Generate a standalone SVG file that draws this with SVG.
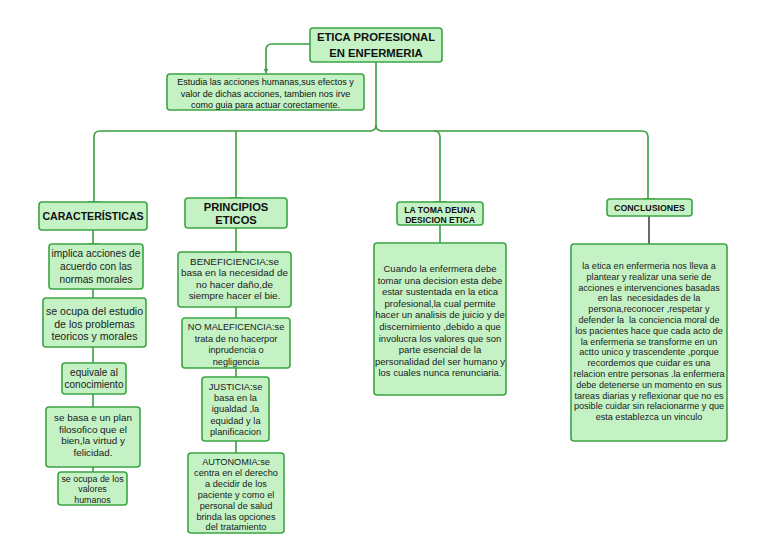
<svg xmlns="http://www.w3.org/2000/svg" width="768" height="555" viewBox="0 0 768 555">
<defs>
<style>
.box{fill:#c4f2c5;stroke:#3ba443;stroke-width:1.6}
.con{fill:none;stroke:#3a9f42;stroke-width:1.6}
.hd{font-family:"Liberation Sans",Arial,sans-serif;font-weight:bold;fill:#111;text-anchor:middle}
.tx{font-family:"Liberation Sans",Arial,sans-serif;fill:#1a1a1a;text-anchor:middle}
.ar{font-family:"Liberation Sans",Arial,sans-serif;fill:#111;text-anchor:middle}
</style>
<marker id="arr" viewBox="0 0 10 10" refX="9" refY="5" markerWidth="5" markerHeight="5" orient="auto" markerUnits="userSpaceOnUse">
<path d="M0,0 L10,5 L0,10 z" fill="#3a9f42"/>
</marker>
</defs>
<rect width="768" height="555" fill="#fff"/>
<g id="connectors">
<path class="con" d="M310,44 H272 Q266,44 266,50 V73" marker-end="url(#arr)"/>
<path class="con" d="M376,62 V125 Q376,131 370,131 H100 Q94,131 94,137 V202"/>
<path class="con" d="M376,125 Q376,131 382,131 H642 Q648,131 648,137 V199"/>
<path class="con" d="M236,131 V198"/>
<path class="con" d="M434,131 Q440,131 440,137 V202"/>
<path class="con" d="M93,230 V244 M93,289 V298 M93,347 V363 M93,394 V407 M93,467 V472"/>
<path class="con" d="M236,228 V252 M236,307 V318 M236,368 V377 M236,441 V453"/>
<path class="con" d="M440,225 V243"/>
<path class="con" style="stroke:#444" d="M649,216 V244"/>
<path class="con" d="M88,202 H100 M230,198 H242 M434,202 H446 M643,199 H655 M87,244 H99 M230,252 H242"/>
</g>
<g id="root">
<rect class="box" x="310" y="28" width="132" height="34" rx="3"/>
<text class="hd" font-size="11.3" x="376" y="41">ETICA PROFESIONAL</text>
<text class="hd" font-size="11.3" x="376" y="56.5">EN ENFERMERIA</text>
</g>
<g id="estudia">
<rect class="box" x="167" y="74" width="197" height="36" rx="3"/>
<text class="ar" font-size="9" x="265.5" y="85">Estudia las acciones humanas,sus efectos y</text>
<text class="ar" font-size="9" x="265.5" y="96.5">valor de dichas acciones, tambien nos irve</text>
<text class="ar" font-size="9" x="265.5" y="108">como guia para actuar corectamente.</text>
</g>
<g id="caracteristicas">
<rect class="box" x="39" y="202" width="108" height="28" rx="3"/>
<text class="hd" font-size="10.6" x="93" y="219.5">CARACTERÍSTICAS</text>
</g>
<g id="implica">
<rect class="box" x="49" y="244" width="94" height="45" rx="3"/>
<text class="tx" font-size="10.2" x="96" y="257">implica acciones de</text>
<text class="tx" font-size="10.2" x="96" y="270">acuerdo con las</text>
<text class="tx" font-size="10.2" x="96" y="283">normas morales</text>
</g>
<g id="estudio">
<rect class="box" x="43" y="298" width="103" height="49" rx="3"/>
<text class="tx" font-size="10.6" x="94.5" y="315">se ocupa del estudio</text>
<text class="tx" font-size="10.6" x="94.5" y="327.5">de los problemas</text>
<text class="tx" font-size="10.6" x="94.5" y="340">teoricos y morales</text>
</g>
<g id="equivale">
<rect class="box" x="62" y="363" width="64" height="31" rx="3"/>
<text class="tx" font-size="10" x="94" y="375.5">equivale al</text>
<text class="tx" font-size="10" x="94" y="387.5">conocimiento</text>
</g>
<g id="sebasa">
<rect class="box" x="46" y="407" width="94" height="60" rx="3"/>
<text class="tx" font-size="9.9" x="93" y="421">se basa e un plan</text>
<text class="tx" font-size="9.9" x="93" y="432.5">filosofico que el</text>
<text class="tx" font-size="9.9" x="93" y="444">bien,la virtud y</text>
<text class="tx" font-size="9.9" x="93" y="455.5">felicidad.</text>
</g>
<g id="valores">
<rect class="box" x="58" y="472" width="69" height="33" rx="3"/>
<text class="tx" font-size="8.9" x="92.5" y="481.5">se ocupa de los</text>
<text class="tx" font-size="8.9" x="92.5" y="492">valores</text>
<text class="tx" font-size="8.9" x="92.5" y="502.5">humanos</text>
</g>
<g id="principios">
<rect class="box" x="185" y="198" width="102" height="30" rx="3"/>
<text class="hd" font-size="11.2" x="236" y="210.5">PRINCIPIOS</text>
<text class="hd" font-size="11.2" x="236" y="224">ETICOS</text>
</g>
<g id="beneficiencia">
<rect class="box" x="178" y="252" width="113" height="55" rx="3"/>
<text class="tx" font-size="9.9" x="234.5" y="264.5">BENEFICIENCIA:se</text>
<text class="tx" font-size="9.9" x="234.5" y="276">basa en la necesidad de</text>
<text class="tx" font-size="9.9" x="234.5" y="287.5">no hacer daño,de</text>
<text class="tx" font-size="9.9" x="234.5" y="299">siempre hacer el bie.</text>
</g>
<g id="nomaleficencia">
<rect class="box" x="182" y="318" width="108" height="50" rx="3"/>
<text class="tx" font-size="9.2" x="236" y="330">NO MALEFICENCIA:se</text>
<text class="tx" font-size="9.2" x="236" y="341.5">trata de no hacerpor</text>
<text class="tx" font-size="9.2" x="236" y="353">inprudencia o</text>
<text class="tx" font-size="9.2" x="236" y="364.5">negligencia</text>
</g>
<g id="justicia">
<rect class="box" x="202" y="377" width="67" height="64" rx="3"/>
<text class="tx" font-size="9.3" x="235.5" y="390">JUSTICIA:se</text>
<text class="tx" font-size="9.3" x="235.5" y="401.2">basa en la</text>
<text class="tx" font-size="9.3" x="235.5" y="412.4">igualdad ,la</text>
<text class="tx" font-size="9.3" x="235.5" y="423.6">equidad y la</text>
<text class="tx" font-size="9.3" x="235.5" y="434.8">planificacion</text>
</g>
<g id="autonomia">
<rect class="box" x="188" y="453" width="96" height="80" rx="3"/>
<text class="tx" font-size="9.2" x="236" y="465">AUTONOMIA:se</text>
<text class="tx" font-size="9.2" x="236" y="475.9">centra en el derecho</text>
<text class="tx" font-size="9.2" x="236" y="486.8">a decidir de los</text>
<text class="tx" font-size="9.2" x="236" y="497.7">paciente y como el</text>
<text class="tx" font-size="9.2" x="236" y="508.6">personal de salud</text>
<text class="tx" font-size="9.2" x="236" y="519.5">brinda las opciones</text>
<text class="tx" font-size="9.2" x="236" y="530.4">del tratamiento</text>
</g>
<g id="latoma">
<rect class="box" x="397" y="202" width="86" height="23" rx="3"/>
<text class="hd" font-size="8.6" x="440" y="212.5">LA TOMA DEUNA</text>
<text class="hd" font-size="8.6" x="440" y="222.5">DESICION ETICA</text>
</g>
<g id="cuando">
<rect class="box" x="374" y="243" width="132" height="152" rx="3"/>
<text class="tx" font-size="9.5" x="440" y="272">Cuando la enfermera debe</text>
<text class="tx" font-size="9.5" x="440" y="283.6">tomar una decision esta debe</text>
<text class="tx" font-size="9.5" x="440" y="295.2">estar sustentada en la etica</text>
<text class="tx" font-size="9.5" x="440" y="306.8">profesional,la cual permite</text>
<text class="tx" font-size="9.5" x="440" y="318.4">hacer un analisis de juicio y de</text>
<text class="tx" font-size="9.5" x="440" y="330">discernimiento ,debido a que</text>
<text class="tx" font-size="9.5" x="440" y="341.6">involucra los valores que son</text>
<text class="tx" font-size="9.5" x="440" y="353.2">parte esencial de la</text>
<text class="tx" font-size="9.5" x="440" y="364.8">personalidad del ser humano y</text>
<text class="tx" font-size="9.5" x="440" y="376.4">los cuales nunca renunciaria.</text>
</g>
<g id="conclusiones">
<rect class="box" x="607" y="199" width="85" height="17" rx="3"/>
<text class="hd" font-size="8.8" x="649.5" y="210.8">CONCLUSIONES</text>
</g>
<g id="laetica">
<rect class="box" x="571" y="244" width="156" height="197" rx="3"/>
<text class="tx" font-size="9.1" x="649" y="269">la etica en enfermeria nos lleva a</text>
<text class="tx" font-size="9.1" x="649" y="279.8">plantear y realizar una serie de</text>
<text class="tx" font-size="9.1" x="649" y="290.6">acciones e intervenciones basadas</text>
<text class="tx" font-size="9.1" x="649" y="301.4" xml:space="preserve">en las  necesidades de la</text>
<text class="tx" font-size="9.1" x="649" y="312.2">persona,reconocer ,respetar y</text>
<text class="tx" font-size="9.1" x="649" y="323" xml:space="preserve">defender la  la conciencia moral de</text>
<text class="tx" font-size="9.1" x="649" y="333.8">los pacientes hace que cada acto de</text>
<text class="tx" font-size="9.1" x="649" y="344.6">la enfermeria se transforme en un</text>
<text class="tx" font-size="9.1" x="649" y="355.4">actto unico y trascendente ,porque</text>
<text class="tx" font-size="9.1" x="649" y="366.2">recordemos que cuidar es una</text>
<text class="tx" font-size="9.1" x="649" y="377">relacion entre personas .la enfermera</text>
<text class="tx" font-size="9.1" x="649" y="387.8">debe detenerse un momento en sus</text>
<text class="tx" font-size="9.1" x="649" y="398.6">tareas diarias y reflexionar que no es</text>
<text class="tx" font-size="9.1" x="649" y="409.4">posible cuidar sin relacionarme y que</text>
<text class="tx" font-size="9.1" x="649" y="420.2">esta establezca un vinculo</text>
</g>
</svg>
